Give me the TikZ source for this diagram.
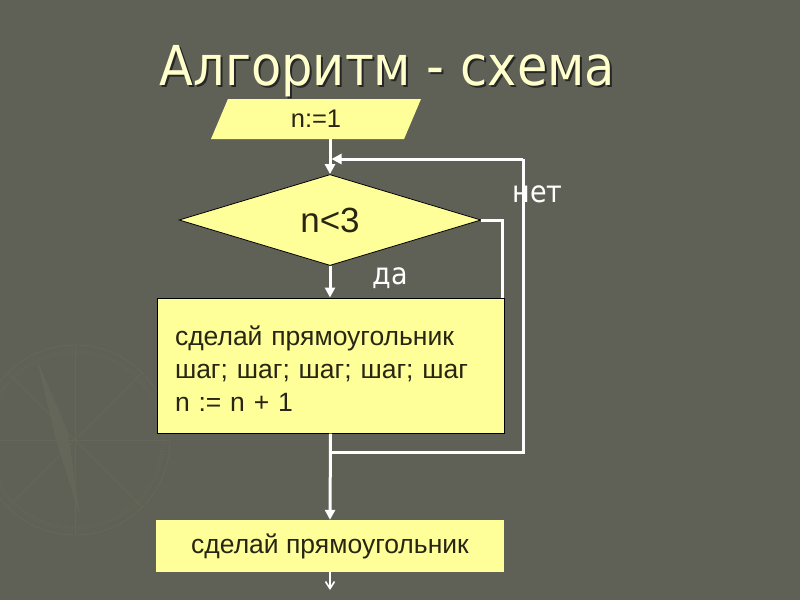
\documentclass[tikz,border=0pt]{standalone}
\usepackage{fontspec}
\usepackage{graphicx}
\setmainfont{Liberation Sans}
\newfontfamily\labelfont{DejaVu Sans}
\usetikzlibrary{shapes.geometric,arrows.meta}
\definecolor{bg}{RGB}{96,97,86}
\definecolor{bgl}{RGB}{101,102,90}
\definecolor{boxfill}{RGB}{255,255,153}
\definecolor{boxtext}{RGB}{40,38,18}
\definecolor{titlecol}{RGB}{255,255,204}
\newcommand{\titletext}{\scalebox{0.9}[1]{Алгоритм - схема}}
\begin{document}
\begin{tikzpicture}[x=1pt,y=-1pt,
  flow/.style={draw=white,line width=3pt},
  arr/.style={flow,-{Triangle[width=10pt,length=10pt]}},
  openarr/.style={draw=white,line width=1.6pt,-{Straight Barb[width=9pt,length=7pt]}},
  yellowbox/.style={fill=boxfill,text=boxtext,inner sep=0pt,font=\fontsize{26.5}{33}\selectfont},
  lbl/.style={text=white,inner sep=0pt,anchor=base,font=\labelfont\fontsize{30}{32}\selectfont},
  deco/.style={draw=bgl,line width=1pt}
]
% background and bounding box
\fill[bg] (0,0) rectangle (800,600);
\useasboundingbox (0,0) rectangle (800,600);

% faint compass rose
\draw[deco] (75,440) circle[radius=95];
\draw[deco,line width=4pt,dash pattern=on 0.8pt off 2pt] (75,440) circle[radius=88];
\draw[deco] (-20,440) -- (170,440) (75,345) -- (75,535);
\draw[deco] (8,373) -- (142,507) (8,507) -- (142,373);
\fill[bgl] (37,360) -- (68,432) -- (80,517) -- (56,440) -- cycle;

% title with shadow
\node[text=titlecol,inner sep=0pt,anchor=base,font=\labelfont\fontsize{55}{60}\selectfont]
  (title) at (387.5,85)
  {\rlap{\hspace{2pt}\raisebox{-2pt}{\color{black!85}\titletext}}\titletext};

% flowchart shapes
\node[yellowbox,shape=trapezium,trapezium left angle=46,trapezium right angle=134,
  trapezium stretches body=true,minimum width=210pt,minimum height=40pt,
  font=\fontsize{25.5}{27}\selectfont] (par) at (316,119) {n:=1};
\node[yellowbox,draw=black,line width=0.8pt,shape=diamond,minimum width=302pt,minimum height=91pt,
  font=\fontsize{35}{36}\selectfont] (dia) at (330,220) {n<3};
\node[yellowbox,draw=black,line width=1pt,minimum width=347pt,minimum height=135pt,
  text width=311pt,align=left] (box1) at (330.5,365.5)
  {\rule{0pt}{25pt}сделай прямоугольник\\шаг; шаг; шаг; шаг; шаг\\n := n + 1};
\node[yellowbox,minimum width=348pt,minimum height=52pt] (box2) at (330,546) {сделай прямоугольник};

% helper coordinates
\coordinate (lr) at (523,452);
\coordinate (ur) at (523,159);
\coordinate (end) at (330,590);

% connectors
\draw[arr] (par.south -| dia.north) -- (dia.north);
\draw[arr] (dia.south) -- (box1.north -| dia.south);
\draw[flow] (dia.east) -| ([xshift=-2pt]box1.north east);
\draw[arr] (box1.south) -- (box2.north);
\draw[flow] (box1.south |- lr) -- (lr) -- (ur);
\draw[arr,shorten >=1.5pt] (ur) -- (dia.north |- ur);
\draw[openarr] (box2.south) -- (end);

% labels
\node[lbl] (no) at (537.5,202) {\scalebox{0.9}[1]{нет}};
\node[lbl] (yes) at (390,284) {\scalebox{0.9}[1]{да}};
\end{tikzpicture}
\end{document}
